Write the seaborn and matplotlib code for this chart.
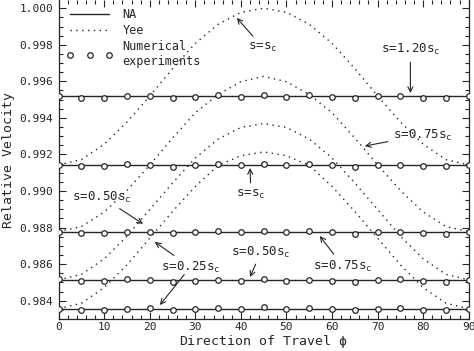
import matplotlib
matplotlib.use("Agg")
import matplotlib.pyplot as plt
from matplotlib.lines import Line2D
from matplotlib.ticker import MultipleLocator
import seaborn as sns
import pandas as pd

# ---- data ----
phi = [0, 5, 10, 15, 20, 25, 30, 35, 40, 45, 50, 55, 60, 65, 70, 75, 80, 85, 90]

na_levels = {"1.20": 0.99518, "1.00": 0.99143, "0.75": 0.98778, "0.50": 0.98514, "0.25": 0.98356}

yee_100 = [0.99143, 0.99172, 0.99256, 0.99378, 0.99520, 0.99670, 0.99808, 0.99912, 0.99978, 1.00000,
           0.99978, 0.99912, 0.99808, 0.99670, 0.99520, 0.99378, 0.99256, 0.99172, 0.99143]
yee_075 = [0.98778, 0.98806, 0.98885, 0.99003, 0.99143, 0.99290, 0.99428, 0.99528, 0.99598, 0.99627,
           0.99598, 0.99528, 0.99428, 0.99290, 0.99143, 0.99003, 0.98885, 0.98806, 0.98778]
yee_050 = [0.98514, 0.98544, 0.98629, 0.98753, 0.98899, 0.99044, 0.99181, 0.99284, 0.99348, 0.99369,
           0.99348, 0.99284, 0.99181, 0.99044, 0.98899, 0.98753, 0.98629, 0.98544, 0.98514]
yee_025 = [0.98356, 0.98386, 0.98472, 0.98596, 0.98742, 0.98888, 0.99025, 0.99140, 0.99193, 0.99214,
           0.99193, 0.99140, 0.99025, 0.98888, 0.98742, 0.98596, 0.98472, 0.98386, 0.98356]

num_120 = [0.99518, 0.99509, 0.99509, 0.99518, 0.99518, 0.99509, 0.99514, 0.99523, 0.99514, 0.99525,
           0.99514, 0.99523, 0.99514, 0.99509, 0.99518, 0.99518, 0.99509, 0.99509, 0.99518]
num_100 = [0.99143, 0.99136, 0.99138, 0.99145, 0.99143, 0.99134, 0.99140, 0.99145, 0.99140, 0.99148,
           0.99140, 0.99145, 0.99140, 0.99134, 0.99143, 0.99143, 0.99136, 0.99136, 0.99143]
num_075 = [0.98778, 0.98769, 0.98771, 0.98778, 0.98778, 0.98769, 0.98774, 0.98782, 0.98773, 0.98782,
           0.98773, 0.98780, 0.98773, 0.98767, 0.98778, 0.98778, 0.98769, 0.98767, 0.98778]
num_050 = [0.98518, 0.98505, 0.98505, 0.98518, 0.98514, 0.98503, 0.98509, 0.98514, 0.98509, 0.98518,
           0.98507, 0.98514, 0.98509, 0.98503, 0.98512, 0.98518, 0.98505, 0.98503, 0.98514]
num_025 = [0.98356, 0.98347, 0.98347, 0.98356, 0.98358, 0.98349, 0.98354, 0.98361, 0.98352, 0.98363,
           0.98352, 0.98361, 0.98356, 0.98347, 0.98356, 0.98361, 0.98351, 0.98347, 0.98356]

x_ticks = [0, 10, 20, 30, 40, 50, 60, 70, 80, 90]
y_ticks = [0.984, 0.986, 0.988, 0.990, 0.992, 0.994, 0.996, 0.998, 1.000]

# ---- build long tables ----
na_df = pd.DataFrame([(p, v, k) for k, v in na_levels.items() for p in (phi[0], phi[-1])],
                     columns=["phi", "v", "s"])
yee_df = pd.DataFrame([(p, v, k) for k, arr in (("1.00", yee_100), ("0.75", yee_075),
                                                ("0.50", yee_050), ("0.25", yee_025))
                       for p, v in zip(phi, arr)], columns=["phi", "v", "s"])
num_df = pd.DataFrame([(p, v, k) for k, arr in (("1.20", num_120), ("1.00", num_100), ("0.75", num_075),
                                                ("0.50", num_050), ("0.25", num_025))
                       for p, v in zip(phi, arr)], columns=["phi", "v", "s"])

# ---- style ----
sns.set_style("ticks")
plt.rcParams["font.family"] = ["DejaVu Sans Mono", "DejaVu Sans"]
plt.rcParams["mathtext.default"] = "regular"

ink = "#262626"
fig = plt.figure(figsize=(4.74, 3.51), dpi=100)
ax = fig.add_axes([58.7 / 474, (351 - 319.3) / 351, 410 / 474, 319.3 / 351])

sns.lineplot(data=na_df, x="phi", y="v", units="s", estimator=None, color=ink, lw=1.0,
             ax=ax, legend=False)
sns.lineplot(data=yee_df, x="phi", y="v", units="s", estimator=None, color=ink, lw=1.0,
             linestyle=(0, (1, 3.2)), ax=ax, legend=False)
sns.scatterplot(data=num_df, x="phi", y="v", marker="o", s=16, facecolor="white",
                edgecolor=ink, linewidth=0.9, ax=ax, legend=False, zorder=3)

ax.set_xlim(0, 90)
ax.set_ylim(0.98298, 1.00045)
ax.set_xticks(x_ticks)
ax.set_xticklabels([str(t) for t in x_ticks])
ax.set_yticks(y_ticks)
ax.set_yticklabels([f"{t:.3f}" for t in y_ticks])
ax.xaxis.set_minor_locator(MultipleLocator(2))
ax.yaxis.set_minor_locator(MultipleLocator(0.0005))
ax.tick_params(which="both", direction="in", top=True, right=True, colors=ink,
               labelsize=8, width=0.8)
ax.tick_params(axis="x", which="both", pad=2)
ax.tick_params(axis="y", which="both", pad=4)
ax.tick_params(which="major", length=5)
ax.tick_params(which="minor", length=3)
for sp in ax.spines.values():
    sp.set_color(ink)
    sp.set_linewidth(0.9)
ax.spines["top"].set_visible(False)

ax.set_xlabel("Direction of Travel $\\phi$", fontsize=9.5, color=ink, labelpad=1)
ax.set_ylabel("Relative Velocity", fontsize=9.5, color=ink, labelpad=3)

# ---- legend ----
handles = [Line2D([], [], color=ink, lw=1.0),
           Line2D([], [], color=ink, lw=1.0, linestyle=(0, (1, 3.2))),
           Line2D([], [], color=ink, lw=0, marker="o", markersize=4.0,
                  markerfacecolor="white", markeredgecolor=ink, markeredgewidth=0.9)]
leg = ax.legend(handles, ["NA", "Yee", "Numerical\nexperiments"], loc="upper left",
                bbox_to_anchor=(0.02, 0.975), frameon=False, fontsize=8.5, numpoints=3,
                handlelength=3.9, handletextpad=0.8, labelspacing=0.25, borderpad=0,
                borderaxespad=0)
for t in leg.get_texts():
    t.set_color(ink)

# ---- annotations ----
arrow = dict(arrowstyle="->", color=ink, lw=0.8, shrinkA=1, shrinkB=0, mutation_scale=9)
notes = [
    ("s=s$_c$", (39.1, 0.99947), (44.7, 0.99788)),
    ("s=1.20s$_c$", (77.2, 0.99536), (77.2, 0.99772)),
    ("s=0.75s$_c$", (67.2, 0.99246), (79.8, 0.99306)),
    ("s=s$_c$", (42.0, 0.99126), (42.2, 0.98983)),
    ("s=0.50s$_c$", (18.5, 0.98820), (9.5, 0.98967)),
    ("s=0.25s$_c$", (21.1, 0.98721), (28.9, 0.98584)),
    ("s=0.50s$_c$", (42.0, 0.98529), (44.4, 0.98666)),
    ("s=0.75s$_c$", (57.3, 0.98754), (62.4, 0.98589)),
]
for txt, xy, xyt in notes:
    ax.annotate(txt, xy=xy, xytext=xyt, ha="center", va="center", fontsize=9,
                color=ink, arrowprops=arrow)
ax.annotate("", xy=(22.2, 0.98376), xytext=(28.9, 0.98584), arrowprops=dict(
    arrowstyle="->", color=ink, lw=0.8, shrinkA=7, shrinkB=0, mutation_scale=9))

fig.savefig("out.png", dpi=100)
